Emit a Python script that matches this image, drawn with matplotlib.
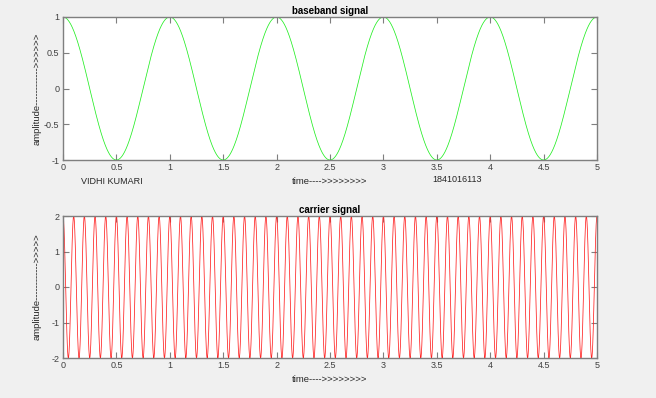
import numpy as np
import matplotlib.pyplot as plt

plt.rcParams['font.family'] = ['Liberation Sans', 'DejaVu Sans']
plt.rcParams['font.size'] = 7

# signal parameters
t = np.arange(0, 5.0005, 0.001)
base_amp = 1
base_freq = 1
carrier_amp = 2
carrier_freq = 10

x_ticks = [0, 0.5, 1, 1.5, 2, 2.5, 3, 3.5, 4, 4.5, 5]
x_ticklabels = ['0', '0.5', '1', '1.5', '2', '2.5', '3', '3.5', '4', '4.5', '5']
base_yticks = [-1, -0.5, 0, 0.5, 1]
carrier_yticks = [-2, -1, 0, 1, 2]

baseband = base_amp * np.cos(2 * np.pi * base_freq * t)
carrier = carrier_amp * np.cos(2 * np.pi * carrier_freq * t)

fig = plt.figure(figsize=(6.56, 3.98), dpi=100, facecolor='#f0f0f0')


def style_axes(ax):
    # matlab look: box on, ticks inside on all sides
    for s in ax.spines.values():
        s.set_color('#7f7f7f')
        s.set_linewidth(1.0)
    ax.tick_params(direction='in', top=True, right=True, length=4,
                   width=0.8, color='#7f7f7f', labelcolor='#404040',
                   labelsize=6.5, pad=2.5)
    ax.set_xticks(x_ticks)
    ax.set_xticklabels(x_ticklabels)
    ax.set_xlim(0, 5)
    ax.yaxis.set_label_coords(-0.04, 0.5)


# 上面的图: baseband
ax1 = fig.add_axes([63 / 656, 1 - 160 / 398, 534 / 656, 143 / 398])
ax1.plot(t, baseband, color='#22ee22', linewidth=0.55)
ax1.set_ylim(-1, 1)
ax1.set_yticks(base_yticks)
ax1.set_yticklabels(['-1', '-0.5', '0', '0.5', '1'])
style_axes(ax1)
ax1.set_title('baseband signal', fontsize=7, fontweight='bold', pad=2)
ax1.set_xlabel('time---->>>>>>>>', color='#262626', fontsize=6.8, labelpad=3)
ax1.set_ylabel('amplitude------------>>>>>>', color='#262626', fontsize=6.8)
ax1.text(0.17, -1.30, 'VIDHI KUMARI', fontsize=6.5, color='#262626',
         va='center', ha='left')
ax1.text(3.46, -1.27, '1841016113', fontsize=6.5, color='#262626',
         va='center', ha='left')

# 下面的图: carrier
ax2 = fig.add_axes([63 / 656, 1 - 358 / 398, 534 / 656, 142 / 398])
ax2.plot(t, carrier, color='#ff2020', linewidth=0.55)
ax2.set_ylim(-2, 2)
ax2.set_yticks(carrier_yticks)
ax2.set_yticklabels(['-2', '-1', '0', '1', '2'])
style_axes(ax2)
ax2.set_title('carrier signal', fontsize=7, fontweight='bold', pad=2)
ax2.set_xlabel('time---->>>>>>>>', color='#262626', fontsize=6.8, labelpad=3)
ax2.set_ylabel('amplitude------------>>>>>', color='#262626', fontsize=6.8)

fig.savefig('out.png', dpi=100, facecolor=fig.get_facecolor())
